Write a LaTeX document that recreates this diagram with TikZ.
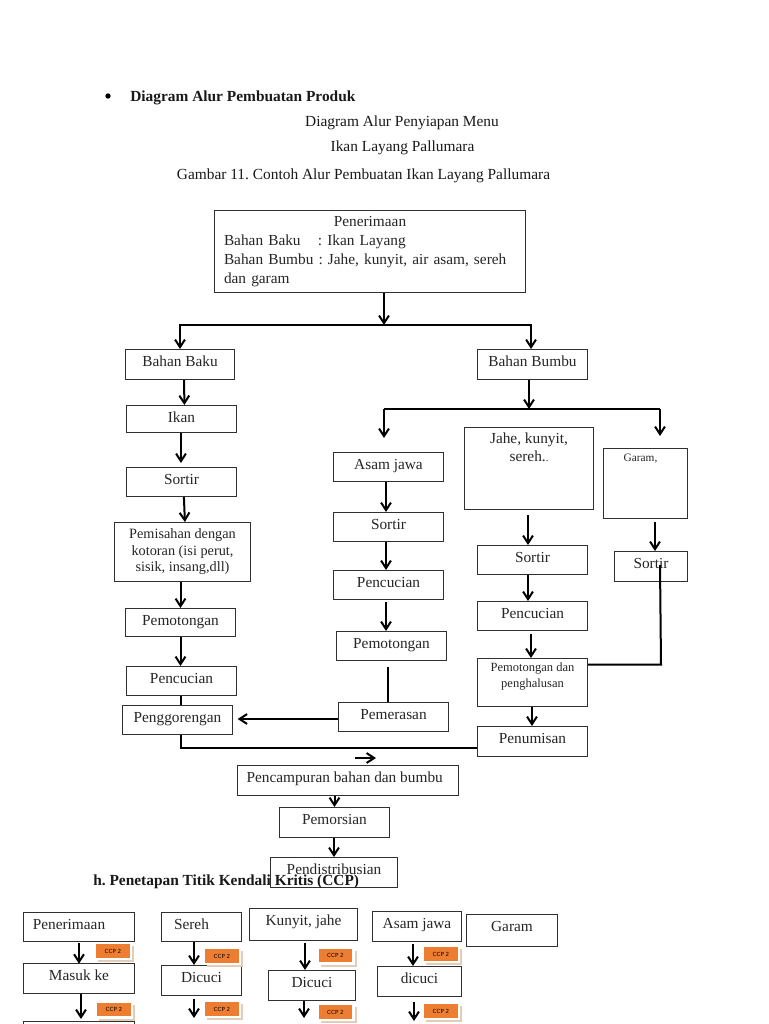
\documentclass[tikz,border=0pt]{standalone}
\usepackage{fontspec}
\setmainfont{Liberation Serif}
\newfontfamily\tagfont{DejaVu Sans}
\usetikzlibrary{arrows.meta,shadows}
\definecolor{boxline}{HTML}{303030}
\definecolor{tagorange}{HTML}{ED7D31}
\definecolor{tagshade}{HTML}{E3CDB8}

\begin{document}
\frenchspacing
\begin{tikzpicture}
  [x=0.75pt,y=-0.75pt,>={Straight Barb[length=2mm,width=2.6mm]},
   box/.style 2 args={rectangle,draw=boxline,line width=0.9pt,anchor=north west,inner sep=0pt,
     minimum width=#1*0.75pt-0.9pt,text height=12.6pt,text depth=#2*0.75pt-13.5pt,
     font=\fontsize{11.5}{13}\selectfont,text=black!85},
   tall box/.style 2 args={rectangle,draw=boxline,line width=0.9pt,anchor=north west,inner sep=0pt,
     minimum width=#1*0.75pt-0.9pt,minimum height=#2*0.75pt-0.9pt,align=center,text=black!85,
     font=\fontsize{11.5}{13.5}\selectfont},
   arrow/.style={->,line width=1.5pt},
   plain line/.style={line width=1.5pt},
   tag/.style={rectangle,fill=tagorange,draw=white,line width=2.2pt,inner sep=0pt,minimum width=27pt,minimum height=12pt,
     general shadow={fill=tagshade,shadow xshift=2.4pt,shadow yshift=-2.4pt},
     font=\tagfont\fontsize{4.2}{5}\selectfont},
   title/.style={font=\fontsize{11.55}{13}\selectfont,text=black!90,inner sep=0pt}]

  \useasboundingbox (0,0) rectangle (768,1024);
  \clip (0,0) rectangle (768,1024);
  \fill [white] (0,0) rectangle (768,1024);

  % Headings
  \fill (108,96) circle (2pt);
  \node [title,anchor=base west,font=\fontsize{11.55}{13}\selectfont\bfseries] (judul) at (130,101) {Diagram Alur Pembuatan Produk};
  \node [title,anchor=base] (sub1) at (402,126) {Diagram Alur Penyiapan Menu};
  \node [title,anchor=base] (sub2) at (402.5,151) {Ikan Layang Pallumara};
  \node [title,anchor=base] (sub3) at (363.5,179) {Gambar 11. Contoh Alur Pembuatan Ikan Layang Pallumara};

  % Top box
  \node [tall box={312}{83},text width=219pt,align=left,font=\fontsize{11.5}{14.25}\selectfont] (terima) at (214,210)
    {\makebox[\linewidth]{Penerimaan}\\
     \makebox[70.5pt][l]{Bahan Baku}: Ikan Layang\\
     Bahan Bumbu : Jahe, kunyit, air asam, sereh\\
     dan garam};
  \node [box={110}{31}] (baku)  at (125,349) {Bahan Baku};
  \node [box={111}{31}] (bumbu) at (477,349) {Bahan Bumbu};

  % Left column
  \node [box={111}{28}] (ikan)    at (126,405) {Ikan};
  \node [box={111}{30}] (sortirA) at (126,467) {Sortir};
  \node [tall box={137}{60},font=\fontsize{10.7}{12.4}\selectfont] (pisah) at (114,522)
    {Pemisahan dengan\\ kotoran (isi perut,\\ sisik, insang,dll)};
  \node [box={111}{29}] (potongA) at (125,608) {Pemotongan};
  \node [box={111}{30}] (cuciA)   at (126,666) {Pencucian};
  \node [box={111}{30}] (goreng)  at (122,705) {Penggorengan};

  % Middle column
  \node [box={111}{30}] (asam)    at (333,452) {Asam jawa};
  \node [box={111}{30}] (sortirB) at (333,512) {Sortir};
  \node [box={111}{30}] (cuciB)   at (333,570) {Pencucian};
  \node [box={111}{30}] (potongB) at (336,631) {Pemotongan};
  \node [box={111}{30}] (peras)   at (338,702) {Pemerasan};

  % Right columns
  \node [tall box={130}{83}] (jahe) at (464,427)
    {Jahe, kunyit,\\ sereh.{\footnotesize .}\\[18pt]\mbox{}};
  \node [tall box={85}{71},font=\fontsize{8.5}{10}\selectfont] (garam) at (603,448)
    {Garam,\hspace{7.5pt}\mbox{}\\[29pt]\mbox{}};
  \node [box={111}{30}] (sortirC) at (477,545) {Sortir};
  \node [box={74}{31}]  (sortirD) at (614,551) {Sortir};
  \node [box={111}{30}] (cuciC)   at (477,601) {Pencucian};
  \node [tall box={111}{49},font=\fontsize{9.4}{12}\selectfont] (potongC) at (477,658)
    {Pemotongan dan\\ penghalusan\\[-1.5pt]\mbox{}};
  \node [box={111}{31}] (tumis)   at (477,726) {Penumisan};

  % End of the flow
  \node [box={222}{31}] (campur)     at (237,765) {Pencampuran bahan dan bumbu\hspace{5pt}\mbox{}};
  \node [box={111}{31}] (porsi)      at (279,807) {Pemorsian};
  \node [box={128}{31}] (distribusi) at (270,857) {Pendistribusian};
  \node [title,anchor=base west,font=\fontsize{11.55}{13}\selectfont\bfseries] (judulH) at (93,885)
    {h. Penetapan Titik Kendali Kritis (CCP)};

  % CCP table
  \node [box={112}{30}] (ccpTerima) at (23,912)   {Penerimaan\hspace{15pt}\mbox{}};
  \node [box={112}{31}] (ccpMasuk)  at (23,963)   {Masuk ke};
  \node [box={112}{31}] (ccpLanjut) at (23,1021)  {};
  \node [box={81}{30}]  (ccpSereh)  at (161,912)  {Sereh\hspace{15pt}\mbox{}};
  \node [box={81}{31}]  (ccpCuci1)  at (161,965)  {Dicuci};
  \node [box={109}{33}] (ccpKunyit) at (249,908)  {Kunyit, jahe};
  \node [box={88}{31}]  (ccpCuci2)  at (268,970)  {Dicuci};
  \node [box={90}{31}]  (ccpAsam)   at (372,911)  {Asam jawa};
  \node [box={85}{31}]  (ccpCuci3)  at (377,966)  {dicuci};
  \node [box={92}{33}]  (ccpGaram)  at (466,914)  {Garam};
  \coordinate (endSereh)  at (194,1018);
  \coordinate (endKunyit) at (304,1018);
  \coordinate (endAsam)   at (414,1021);

  % Connectors
  \coordinate (cabang) at (384,325);
  \coordinate (cabangB) at (529,409);
  \coordinate (kiri) at (181,748);
  \draw [arrow] (terima.south -| cabang) -- (cabang);
  \draw [arrow] (cabang) -| (baku.north);
  \draw [arrow] (cabang) -| ([xshift=-1.1pt]bumbu.north);
  \draw [arrow] ([xshift=3pt]baku.south) -- ([xshift=2.2pt]ikan.north);
  \draw [arrow] ([xshift=-0.4pt]ikan.south) -- ([xshift=-0.4pt,yshift=3pt]sortirA.north);
  \draw [arrow] ([xshift=1.8pt]sortirA.south) -- ([xshift=1.8pt]pisah.north);
  \draw [arrow] (pisah.south -| potongA.north) -- (potongA.north);
  \draw [arrow] (potongA.south) -- (cuciA.north -| potongA.south);
  \draw [plain line] (cuciA.south -| potongA.south) -- (goreng.north -| potongA.south);
  \draw [plain line] (goreng.south -| kiri) -- (kiri) -- (kiri -| tumis.west);
  \draw [arrow] (355,758) -- (376,758);

  \draw [arrow] (bumbu.south -| cabangB) -- (cabangB);
  \draw [plain line] (384,409) -- (660,409);
  \draw [arrow] (384,409) -- (384,438);
  \draw [arrow] (660,409) -- (660,436);
  \draw [arrow] ([yshift=-4pt]jahe.south -| 528,0) -- (sortirC.north -| 528,0);
  \draw [arrow] (sortirC.south -| 528,0) -- (cuciC.north -| 528,0);
  \draw [arrow] ([yshift=-2pt]cuciC.south -| 531,0) -- (potongC.north -| 531,0);
  \draw [arrow] ([xshift=-0.4pt]potongC.south) -- ([xshift=-0.4pt]tumis.north);
  \draw [arrow] ([yshift=-2pt]garam.south -| 655,0) -- (sortirD.north -| 655,0);
  \draw [plain line] (potongC.east |- 0,664.5) -- (661,664.5) -- (660,565);

  \draw [arrow] (asam.south -| 386,0) -- (sortirB.north -| 386,0);
  \draw [arrow] (sortirB.south -| 386,0) -- (cuciB.north -| 386,0);
  \draw [arrow] ([yshift=-1.5pt]cuciB.south -| 386,0) -- (potongB.north -| 386,0);
  \draw [plain line] ([yshift=-4.5pt]potongB.south -| 388,0) -- (peras.north -| 388,0);
  \draw [arrow] (peras.west |- 0,719) -- ([xshift=3.5pt]goreng.east |- 0,719);
  \draw [arrow] (campur.south -| 334.5,0) -- (porsi.north -| 334.5,0);
  \draw [arrow] ([xshift=-0.4pt]porsi.south) -- ([xshift=-0.4pt]porsi.south |- distribusi.north);

  \draw [arrow] ([yshift=-0.5pt]ccpTerima.south) -- ([yshift=-0.5pt]ccpTerima.south |- ccpMasuk.north);
  \draw [arrow] (ccpMasuk.south -| 81,0) -- (81,1019);
  \draw [arrow] (ccpSereh.south -| endSereh) -- (ccpCuci1.north -| endSereh);
  \draw [arrow] (ccpCuci1.south -| endSereh) ++(0,3) -- (endSereh);
  \draw [arrow] (305,943) -- (ccpCuci2.north -| 305,0);
  \draw [arrow] (ccpCuci2.south -| endKunyit) -- (endKunyit);
  \draw [arrow] (413,944) -- (ccpCuci3.north -| 413,0);
  \draw [arrow] (ccpCuci3.south -| endAsam) ++(0,5) -- (endAsam);

  % CCP tags
  \node [tag] (tag1) at (113,951)    {CCP 2};
  \node [tag] (tag2) at (114,1009.5) {CCP 2};
  \node [tag] (tag3) at (222,956)    {CCP 2};
  \node [tag] (tag4) at (222,1009)   {CCP 2};
  \node [tag] (tag5) at (335.5,955.5) {CCP 2};
  \node [tag] (tag6) at (335.5,1012) {CCP 2};
  \node [tag] (tag7) at (441,954)    {CCP 2};
  \node [tag] (tag8) at (441,1011)   {CCP 2};
\end{tikzpicture}
\end{document}
